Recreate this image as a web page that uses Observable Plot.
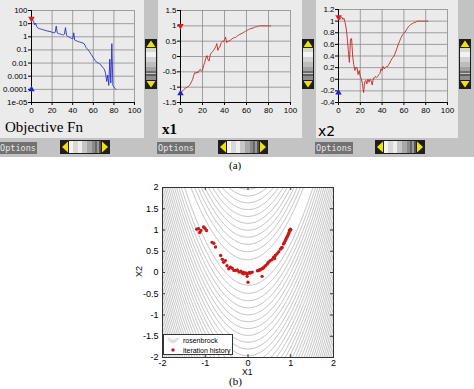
<!DOCTYPE html>
<html><head><meta charset="utf-8">
<script src="https://cdn.jsdelivr.net/npm/d3@7"></script>
<script src="https://cdn.jsdelivr.net/npm/@observablehq/plot@0.6"></script>
<style>
body{margin:0;background:#fff;}
#root{position:relative;width:474px;height:389px;overflow:hidden;font-family:"Liberation Sans",Arial,sans-serif;}
</style></head><body><div id="root"></div>
<script>
// ---------- data ----------
const objectiveFn = [24,20,15,8,11,6,4.8,4.4,4.1,3.9,
  3.7,3.5,3.3,3.1,3.0,2.8,2.7,2.6,2.5,2.4,
  2.2,2.1,2.0,2.2,6.5,2.0,1.8,1.7,1.6,1.5,
  1.45,1.4,1.6,5.0,1.3,1.1,1.0,0.9,0.8,0.75,
  0.7,2.0,0.55,0.5,0.48,0.45,0.42,0.4,0.38,0.35,
  0.33,0.3,0.22,0.15,0.12,0.1,0.08,0.06,0.045,0.035,
  0.025,0.02,0.015,0.012,0.011,0.01,0.009,0.008,0.006,0.005,
  0.004,0.003,0.0015,0.0004,0.0012,0.0002,0.02,0.0003,0.3,0.0002,0.00015,0.00012,0.0001];
const x1Values = [-1.2,-1.15,-1.12,-1.08,-1.05,-1.02,-1.0,-0.98,-0.95,-0.9,
  -0.82,-0.75,-0.62,-0.52,-0.55,-0.5,-0.53,-0.45,-0.42,-0.48,
  -0.45,-0.3,-0.2,-0.05,0.03,-0.1,-0.15,0.05,0.12,0.15,
  0.2,0.25,0.32,0.42,0.2,0.3,0.32,0.45,0.5,0.48,
  0.55,0.63,0.45,0.5,0.5,0.52,0.55,0.58,0.6,0.62,
  0.62,0.65,0.68,0.7,0.72,0.74,0.76,0.78,0.8,0.82,
  0.84,0.86,0.88,0.9,0.91,0.92,0.93,0.95,0.96,0.97,
  0.98,0.99,1.0,1.0,1.0,1.0,1.0,1.0,1.0,1.0,1.0,1.0,1.0];
const x2Values = [1.04,1.02,1.06,1.07,1.03,1.05,0.98,0.88,0.72,0.49,
  0.29,0.69,0.7,0.4,0.25,0.15,0.2,0.2,0.08,0.15,
  0.05,0.0,-0.08,-0.23,-0.05,-0.02,-0.08,0.0,-0.05,0.0,
  -0.03,-0.1,0.02,0.02,0.05,0.03,0.05,0.08,0.1,0.18,
  0.15,0.22,0.18,0.2,0.22,0.22,0.25,0.28,0.32,0.35,
  0.38,0.4,0.45,0.5,0.55,0.61,0.65,0.7,0.74,0.77,
  0.79,0.81,0.84,0.87,0.9,0.92,0.94,0.95,0.96,0.97,
  0.98,0.98,1.0,1.0,1.0,1.0,1.0,1.0,1.0,1.0,1.0,1.0,1.0];

const historyX1 = [-1.2,-1.16,-1.13,-1.10,-1.04,-1.01,-0.97,-0.84,-0.8,-0.76,
  -0.64,-0.6,-0.57,-0.53,-0.49,-0.45,-0.41,-0.37,-0.33,-0.29,-0.25,-0.21,-0.17,-0.14,-0.11,-0.1,-0.05,-0.02,-0.02,0.0,0.02,0.04,0.06,0.1,
  0.22,0.25,0.26,0.27,0.29,0.33,0.35,0.37,0.41,0.45,0.48,0.52,0.56,0.6,0.62,0.64,0.68,0.72,0.76,0.78,0.8,0.83,0.85,0.87,0.89,0.91,0.93,0.95,0.96,0.97,0.99,1.0,0.33];
const historyX2 = [1.02,1.03,0.94,0.99,1.07,1.04,0.99,0.71,0.69,0.6,
  0.40,0.31,0.24,0.28,0.16,0.09,0.125,0.1,0.05,0.05,0.06,0.01,0.03,-0.01,0.01,-0.03,-0.01,-0.03,-0.09,-0.23,-0.01,0.0,-0.01,0.01,
  0.04,0.05,0.05,0.06,0.07,0.09,0.1,0.125,0.16,0.20,0.24,0.28,0.30,0.36,0.33,0.40,0.44,0.49,0.55,0.58,0.59,0.67,0.7,0.75,0.79,0.83,0.87,0.91,0.94,0.99,1.02,1.0,-0.09];

const contourLevels = [10,25,45,70,100,135,175,220,270,325,385,450,520,595,675,760,850,945,1045,1150,1260,1375,1495,1620,1750,1885,2025,2170,2320,2475,2635,2800,2970,3145,3325,3510,3700];
function rosenbrock(a, b) { return 100 * (b - a * a) ** 2 + (1 - a) ** 2; }

const iterTicks = [0,20,40,60,80,100];
const fTicks = [100,10,1,0.1,0.01,0.001,0.0001,0.00001];
const fTickLabels = ["100","10","1","0.1","0.01","0.001","0.0001","1e-05"];
const x1Ticks = [1.5,1,0.5,0,-0.5,-1,-1.5];
const x1TickLabels = ["1.5","1","0.5","0","-0.5","-1","-1.5"];
const x2Ticks = [1.2,1,0.8,0.6,0.4,0.2,0,-0.2,-0.4];
const x2TickLabels = ["1.2","1","0.8","0.6","0.4","0.2","0","-0.2","-0.4"];
const bTicks = [-2,-1,0,1,2];
const bYTicks = [2,1.5,1,0.5,0,-0.5,-1,-1.5,-2];
const bYTickLabels = ["2","1.5","1","0.5","0","-0.5","-1","-1.5","-2"];

// ---------- layout helpers ----------
const root = document.getElementById("root");
function box(l, t, w, h, css) {
  const d = document.createElement("div");
  d.style.cssText = `position:absolute;left:${l}px;top:${t}px;width:${w}px;height:${h}px;${css || ""}`;
  root.appendChild(d); return d;
}
function put(el, l, t) { el.style.position = "absolute"; el.style.left = l + "px"; el.style.top = t + "px"; root.appendChild(el); }
function text(l, t, s, css) { const d = box(l, t, "auto", "auto", "white-space:nowrap;" + css); d.textContent = s; d.style.width = "auto"; d.style.height = "auto"; return d; }

// GUI background
box(0, 0, 474, 157, "background:#c3c3c3");
box(0, 0, 144, 138, "background:#ebebeb");
box(158, 0, 144, 138, "background:#ebebeb");
box(316, 0, 142, 138, "background:#ebebeb");

function vSlider(l, t) {
  const segs = [["#d8d8d8",4],["#f2f2f2",5],["#d2d2d2",5],["#bcbcbc",5],["#a2a2a2",4],["#6e6e6e",2],["#c4c4c4",1],["#5e5e5e",2],["#8e8e8e",4]];
  let y = 9, r = "";
  for (const [c, h] of segs) { r += `<rect x="1" y="${y}" width="10" height="${h}" fill="${c}"/>`; y += h; }
  const d = box(l, t, 12, 50);
  d.innerHTML = `<svg width="12" height="50"><rect width="12" height="50" fill="#1e1e1e"/><polygon points="1.5,8 6,1.5 10.5,8" fill="#f2e200"/>${r}<polygon points="1.5,42 10.5,42 6,48.5" fill="#f2e200"/></svg>`;
}
function hSlider(l, t) {
  const segs = [["#f4f4f4",4],["#d8d8d8",5],["#eeeeee",4],["#c6c6c6",5],["#a8a8a8",5],["#8a8a8a",3],["#686868",2],["#9a9a9a",2],["#555",2]];
  let x = 9, r = "";
  for (const [c, w] of segs) { r += `<rect x="${x}" y="1" width="${w}" height="12" fill="${c}"/>`; x += w; }
  const d = box(l, t, 50, 14);
  d.innerHTML = `<svg width="50" height="14"><rect width="50" height="14" fill="#1e1e1e"/><polygon points="8,1.5 8,12.5 2,7" fill="#f2e200"/>${r}<polygon points="42,1.5 42,12.5 48,7" fill="#f2e200"/></svg>`;
}
function optionsButton(l) {
  const d = box(l, 142, 38, 12, "background:#727272;color:#e6e6e6;font:8.5px 'DejaVu Sans Mono',monospace;line-height:12px;text-align:center;overflow:hidden");
  d.textContent = "Options";
}
vSlider(145, 39); vSlider(302, 39); vSlider(459, 39);
hSlider(60, 140); hSlider(218, 140); hSlider(375, 140);
optionsButton(-1); optionsButton(157); optionsButton(315);

// ---------- panel plots ----------
function panel({values, color, yType, yDomain, yTicks, yLabels, width, mL, mR, mT}) {
  const data = values.map((v, i) => ({i, v}));
  const extremes = [{i: 0, v: d3.max(values), c: "#d42020", rot: 180}, {i: 0, v: d3.min(values), c: "#2323d0", rot: 0}];
  return Plot.plot({
    width, height: 120, marginLeft: mL, marginRight: mR, marginTop: mT, marginBottom: 18,
    style: {background: "transparent", fontFamily: "'Liberation Sans',Arial,sans-serif", fontSize: "8px", color: "#000", overflow: "visible"},
    x: {domain: [0, 100]},
    y: {type: yType, domain: yDomain},
    marks: [
      Plot.gridX(iterTicks, {stroke: "#8a8a8a", strokeOpacity: 1, strokeWidth: 0.8}),
      Plot.gridY(yTicks, {stroke: "#8a8a8a", strokeOpacity: 1, strokeWidth: 0.8}),
      Plot.axisX(iterTicks, {tickSize: 3, tickPadding: 2, label: null, tickFormat: d => String(d)}),
      Plot.axisY(yTicks, {tickSize: 3, tickPadding: 1, label: null, tickFormat: d => yLabels[yTicks.indexOf(d)]}),
      Plot.ruleX([0], {stroke: "#000"}),
      Plot.ruleY([yDomain[0]], {stroke: "#000"}),
      Plot.line(data, {x: "i", y: "v", stroke: color, strokeWidth: 0.9}),
      Plot.dot(extremes, {x: "i", y: "v", fill: "c", symbol: "triangle", rotate: "rot", r: 2.4})
    ]
  });
}
put(panel({values: objectiveFn, color: "#2d2dc8", yType: "log", yDomain: [0.00001, 100], yTicks: fTicks, yLabels: fTickLabels, width: 144, mL: 31, mR: 10, mT: 10}), 0, 0);
put(panel({values: x1Values, color: "#c42626", yType: "linear", yDomain: [-1.5, 1.5], yTicks: x1Ticks, yLabels: x1TickLabels, width: 144, mL: 22, mR: 12, mT: 10}), 158, 0);
put(panel({values: x2Values, color: "#c42626", yType: "linear", yDomain: [-0.4, 1.2], yTicks: x2Ticks, yLabels: x2TickLabels, width: 142, mL: 22, mR: 11, mT: 9}), 316, 0);

text(5, 119, "Objective Fn", "font:15px 'Liberation Serif',serif;line-height:17px;color:#000");
text(162, 121, "x1", "font:bold 15px 'Liberation Serif',serif;line-height:17px;color:#000");
text(318, 123, "x2", "font:14px 'DejaVu Sans',sans-serif;line-height:16px;color:#000");

text(229, 159, "(a)", "font:11px 'Liberation Serif',serif;line-height:13px;color:#000");

// ---------- (b) contour plot ----------
const history = historyX1.map((x, i) => ({x, y: historyX2[i]}));
const plotB = Plot.plot({
  width: 230, height: 200, marginLeft: 42, marginRight: 17, marginTop: 7, marginBottom: 23,
  style: {background: "#fff", fontFamily: "'Liberation Sans',Arial,sans-serif", fontSize: "9px", color: "#000"},
  x: {domain: [-2, 2]}, y: {domain: [-2, 2]},
  marks: [
    Plot.contour({x1: -2, x2: 2, y1: -2, y2: 2, value: rosenbrock, thresholds: contourLevels, pixelSize: 0.5, fill: "none", stroke: "#8a8a8a", strokeWidth: 0.55}),
    Plot.dot(history, {x: "x", y: "y", fill: "#c81818", r: 1.7}),
    Plot.ruleX(bTicks, {x: d => d, y1: -2, y2: -1.93, stroke: "#333"}),
    Plot.ruleX(bTicks, {x: d => d, y1: 2, y2: 1.93, stroke: "#333"}),
    Plot.ruleY(bYTicks, {y: d => d, x1: -2, x2: -1.93, stroke: "#333"}),
    Plot.ruleY(bYTicks, {y: d => d, x1: 2, x2: 1.93, stroke: "#333"}),
    Plot.frame({stroke: "#333"}),
    Plot.axisX(bTicks, {tickSize: 0, tickPadding: 2, label: null, tickFormat: d => String(d)}),
    Plot.axisY(bYTicks, {tickSize: 0, tickPadding: 4, label: null, tickFormat: d => bYTickLabels[bYTicks.indexOf(d)]})
  ]
});
put(plotB, 120, 180);

text(242, 367, "X1", "font:8.5px 'Liberation Sans',sans-serif;line-height:10px;color:#000");
text(134, 266, "X2", "font:9px 'Liberation Sans',sans-serif;line-height:11px;color:#000;transform:rotate(-90deg);transform-origin:50% 50%");
text(229, 375, "(b)", "font:11px 'Liberation Serif',serif;line-height:13px;color:#000");

// legend
const lg = box(163, 334, 70, 21, "background:#fff;border:1px solid #333;box-sizing:border-box");
lg.innerHTML = `<svg width="70" height="21" style="position:absolute;left:0;top:0">
  <path d="M4,3 Q9,10 14,3 M5,2.5 Q9,8 13,2.5 M3,3.5 Q9,12 15,3.5" fill="none" stroke="#aaa" stroke-width="0.5"/>
  <circle cx="9" cy="15" r="1.7" fill="#c81818"/>
  <text x="19" y="8" font-size="7" font-family="Liberation Sans, Arial, sans-serif">rosenbrock</text>
  <text x="19" y="17.5" font-size="7" font-family="Liberation Sans, Arial, sans-serif">iteration history</text>
</svg>`;
</script>
</body></html>
